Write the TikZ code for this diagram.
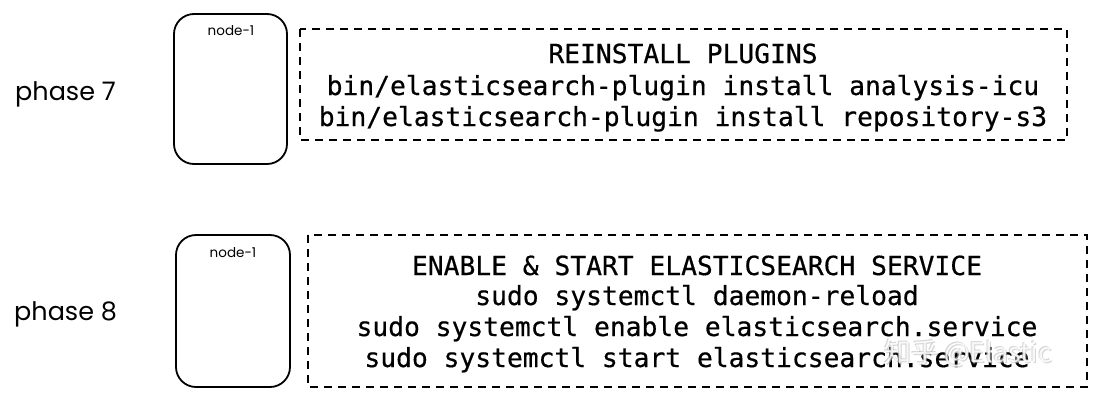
\documentclass[tikz,border=0pt]{standalone}
\usepackage{fontspec}
\newfontfamily\codefont[FakeBold=0.5]{DejaVu Sans Mono}
\newfontfamily\handfont{Poppins}
\newfontfamily\cjkfont{Noto Sans CJK SC}
\begin{document}
\begin{tikzpicture}[x=1pt,y=-1pt,
  nodebox/.style={draw=black,line width=1.8pt,rounded corners=20pt},
  cmdbox/.style={draw=black,line width=1.5pt,dash pattern=on 8pt off 6pt},
  phase/.style={font=\handfont\fontsize{25.5}{25.5}\selectfont,anchor=base west,inner sep=0pt},
  nodelabel/.style={font=\handfont\fontsize{13.5}{13.5}\selectfont,anchor=base,inner sep=0pt},
  cmd/.style={font=\codefont\fontsize{26.3}{26.3}\selectfont,anchor=base,inner sep=0pt},
  wmshadow/.style={font=\cjkfont\fontsize{27}{27}\selectfont,anchor=base,inner sep=0pt,text=gray!55,text opacity=0.6},
  wm/.style={font=\cjkfont\fontsize{27}{27}\selectfont,anchor=base,inner sep=0pt,text=white,text opacity=0.85}]
\useasboundingbox (0,0) rectangle (1100,402);
\fill[white] (0,0) rectangle (1100,402);
% phase 7
\node[phase] (p7) at (15,100) {phase 7};
\draw[nodebox] (174,14) rectangle (287,164);
\node[nodelabel] (n7) at (231,35) {node-1};
\draw[cmdbox] (300,29) rectangle (1067,140);
\node[cmd] (a1) at (683,63) {REINSTALL PLUGINS};
\node[cmd] (a2) at (683,95) {bin/elasticsearch-plugin install analysis-icu};
\node[cmd] (a3) at (683,126) {bin/elasticsearch-plugin install repository-s3};
% phase 8
\node[phase] (p8) at (14,320) {phase 8};
\draw[nodebox] (176,235) rectangle (290,387);
\node[nodelabel] (n8) at (233,257) {node-1};
\draw[cmdbox] (308,235) rectangle (1087,387);
\node[cmd] (b1) at (697,275) {ENABLE \& START ELASTICSEARCH SERVICE};
\node[cmd] (b2) at (697,305) {sudo systemctl daemon-reload};
\node[cmd] (b3) at (697,336) {sudo systemctl enable elasticsearch.service};
\node[cmd] (b4) at (697,367) {sudo systemctl start elasticsearch.service};
% watermark
\node[wmshadow] (ws1) at (967,361) {知乎 @Elastic};
\node[wmshadow] (ws2) at (969,363) {知乎 @Elastic};
\node[wm] (w) at (968,362) {知乎 @Elastic};
\end{tikzpicture}
\end{document}
